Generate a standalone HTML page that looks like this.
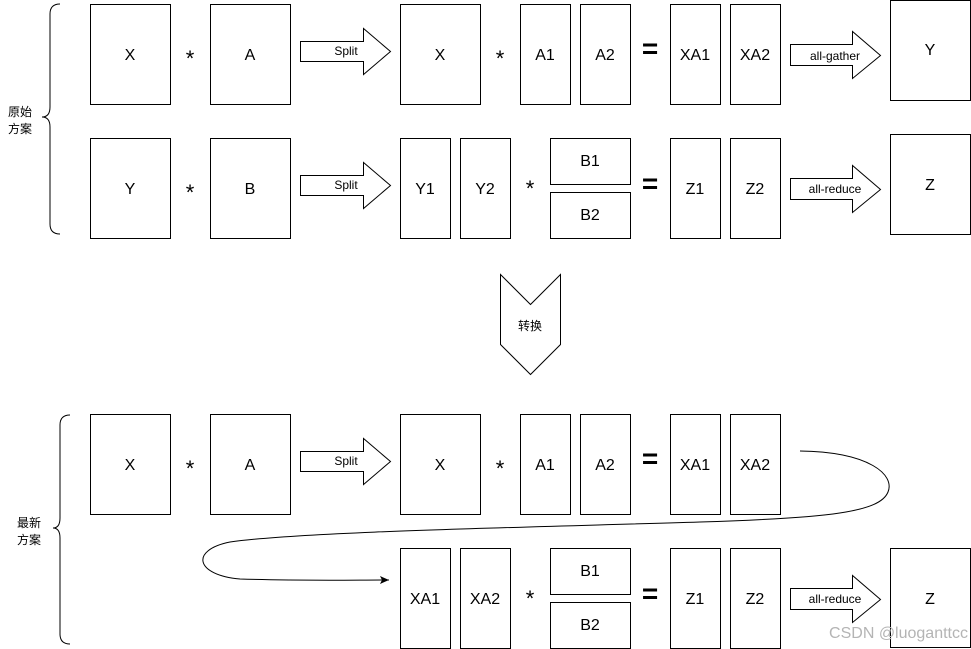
<!DOCTYPE html>
<html><head><meta charset="utf-8"><style>
html,body{margin:0;padding:0;background:#fff;}
svg{display:block;}
text{font-family:"Liberation Sans","Noto Sans CJK SC",sans-serif;fill:#000;}
</style></head><body>
<svg width="971" height="649" viewBox="0 0 971 649" xmlns="http://www.w3.org/2000/svg">
<defs>
<marker id="ah" markerWidth="10" markerHeight="8" refX="9" refY="4" orient="auto" markerUnits="userSpaceOnUse">
<path d="M0,0 L9,4 L0,8 L2,4 Z" fill="#000"/>
</marker>
</defs>
<g fill="#fff" stroke="#000" stroke-width="1">
<rect x="90.5" y="4.5" width="80" height="100"/>
<rect x="210.5" y="4.5" width="80" height="100"/>
<rect x="400.5" y="4.5" width="80" height="100"/>
<rect x="520.5" y="4.5" width="50" height="100"/>
<rect x="580.5" y="4.5" width="50" height="100"/>
<rect x="670.5" y="4.5" width="50" height="100"/>
<rect x="730.5" y="4.5" width="50" height="100"/>
<rect x="890.5" y="0.5" width="80" height="100"/>
<rect x="90.5" y="138.5" width="80" height="100"/>
<rect x="210.5" y="138.5" width="80" height="100"/>
<rect x="400.5" y="138.5" width="50" height="100"/>
<rect x="460.5" y="138.5" width="50" height="100"/>
<rect x="550.5" y="138.5" width="80" height="46"/>
<rect x="550.5" y="192.5" width="80" height="46"/>
<rect x="670.5" y="138.5" width="50" height="100"/>
<rect x="730.5" y="138.5" width="50" height="100"/>
<rect x="890.5" y="134.5" width="80" height="100"/>
<rect x="90.5" y="414.5" width="80" height="100"/>
<rect x="210.5" y="414.5" width="80" height="100"/>
<rect x="400.5" y="414.5" width="80" height="100"/>
<rect x="520.5" y="414.5" width="50" height="100"/>
<rect x="580.5" y="414.5" width="50" height="100"/>
<rect x="670.5" y="414.5" width="50" height="100"/>
<rect x="730.5" y="414.5" width="50" height="100"/>
<rect x="400.5" y="548.5" width="50" height="100"/>
<rect x="460.5" y="548.5" width="50" height="100"/>
<rect x="550.5" y="548.5" width="80" height="46"/>
<rect x="550.5" y="602.5" width="80" height="46"/>
<rect x="670.5" y="548.5" width="50" height="100"/>
<rect x="730.5" y="548.5" width="50" height="100"/>
<rect x="890.5" y="548.5" width="80" height="99"/>
<path d="M300.5,41.5 H363.5 V28.5 L390.5,51.5 L363.5,74.5 V61.5 H300.5 Z"/>
<path d="M300.5,175.5 H363.5 V162.5 L390.5,185.5 L363.5,208.5 V195.5 H300.5 Z"/>
<path d="M300.5,451.5 H363.5 V438.5 L390.5,461.5 L363.5,484.5 V471.5 H300.5 Z"/>
<path d="M790.5,44.5 H852.5 V31.5 L880.5,55.5 L852.5,78.5 V65.5 H790.5 Z"/>
<path d="M790.5,178.5 H852.5 V165.5 L880.5,189.5 L852.5,212.5 V199.5 H790.5 Z"/>
<path d="M790.5,588.5 H852.5 V575.5 L880.5,599.5 L852.5,622.5 V609.5 H790.5 Z"/>
<path d="M500.5,274.5 L530.5,304.5 L560.5,274.5 V344.5 L530.5,374.5 L500.5,344.5 Z"/>
</g>
<g fill="none" stroke="#000" stroke-width="1">
<path d="M60,4 Q50,4 50,14 V107 Q50,117 42,117 Q50,117 50,127 V224 Q50,234 60,234"/>
<path d="M70,415 Q60,415 60,425 V518 Q60,528 53,528 Q60,528 60,538 V634 Q60,644 70,644"/>
<path d="M800,451 C870,452 895,475 888,492 C880,512 830,518 700,522 C500,528 300,532 230,542 C190,550 195,575 240,579 C300,581 350,580 389,580" marker-end="url(#ah)"/>
</g>
<g font-size="16" text-anchor="middle">
<text x="130" y="60">X</text><text x="250" y="60">A</text>
<text x="440" y="60">X</text><text x="545" y="60">A1</text><text x="605" y="60">A2</text>
<text x="695" y="60">XA1</text><text x="755" y="60">XA2</text><text x="930" y="55">Y</text>
<text x="130" y="194">Y</text><text x="250" y="194">B</text>
<text x="425" y="194">Y1</text><text x="485" y="194">Y2</text>
<text x="590" y="166">B1</text><text x="590" y="220">B2</text>
<text x="695" y="194">Z1</text><text x="755" y="194">Z2</text><text x="930" y="190">Z</text>
<text x="130" y="470">X</text><text x="250" y="470">A</text>
<text x="440" y="470">X</text><text x="545" y="470">A1</text><text x="605" y="470">A2</text>
<text x="695" y="470">XA1</text><text x="755" y="470">XA2</text>
<text x="425" y="604">XA1</text><text x="485" y="604">XA2</text>
<text x="590" y="576">B1</text><text x="590" y="630">B2</text>
<text x="695" y="604">Z1</text><text x="755" y="604">Z2</text><text x="930" y="604">Z</text>
</g>
<g font-size="22" text-anchor="middle">
<text x="190" y="66">*</text><text x="500" y="66">*</text>
<text x="190" y="200">*</text><text x="530" y="196">*</text>
<text x="190" y="476">*</text><text x="500" y="476">*</text>
<text x="530" y="606">*</text>
</g>
<g font-size="28" text-anchor="middle" font-weight="bold">
<text x="650" y="58">=</text><text x="650" y="193">=</text>
<text x="650" y="468">=</text><text x="650" y="603">=</text>
</g>
<g font-size="12" text-anchor="middle">
<text x="346" y="55">Split</text><text x="346" y="189">Split</text><text x="346" y="465">Split</text>
<text x="835" y="60">all-gather</text><text x="835" y="193">all-reduce</text><text x="835" y="603">all-reduce</text>
<text x="530" y="330">转换</text>
<text x="20" y="116">原始</text><text x="20" y="133">方案</text>
<text x="29" y="527">最新</text><text x="29" y="544">方案</text>
</g>
<text x="968" y="638" font-size="16" text-anchor="end" style="fill:#b4b4b4">CSDN @luoganttcc</text>
</svg>
</body></html>
